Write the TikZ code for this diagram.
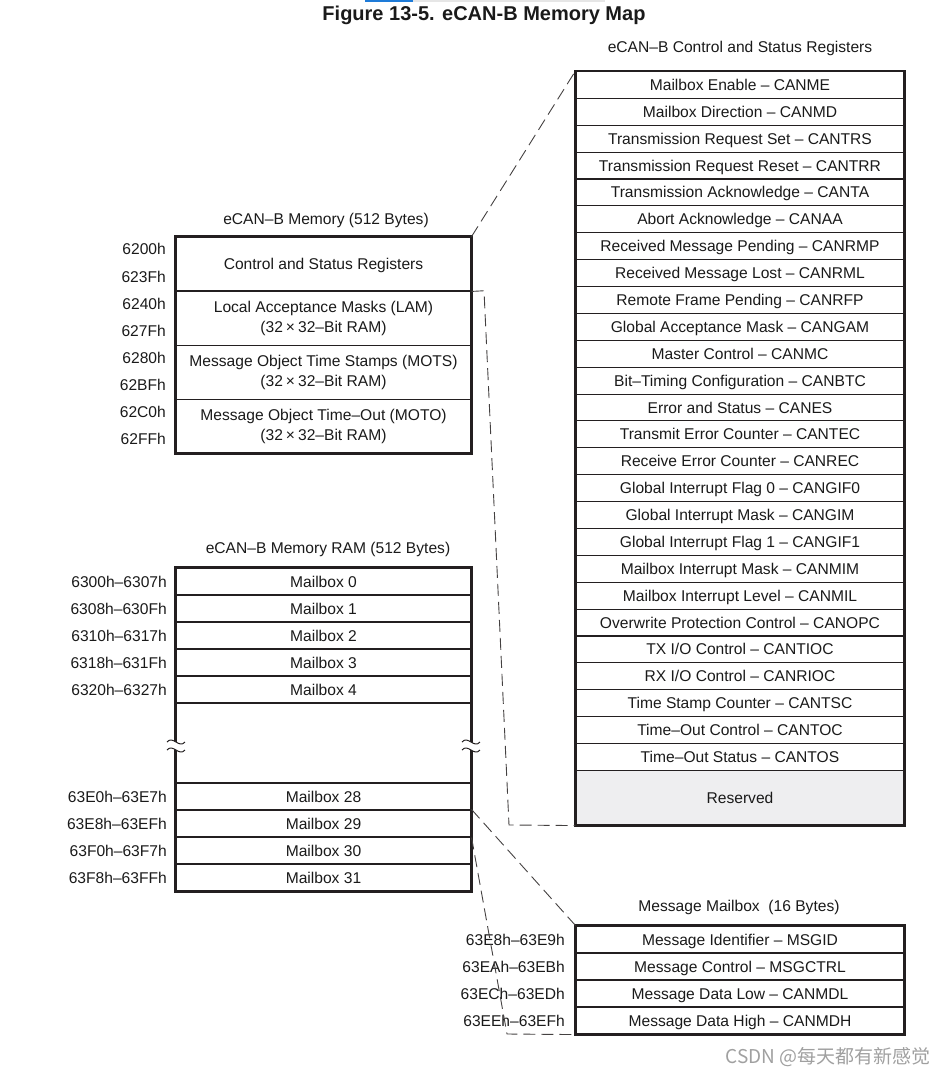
\documentclass[tikz,border=0pt]{standalone}
\usepackage{fontspec}
\setmainfont{Liberation Sans}
\newfontfamily\cjk{Noto Sans CJK SC}
\definecolor{ink}{HTML}{1A1A1A}
\definecolor{edge}{HTML}{231F20}
\definecolor{resv}{HTML}{EEEEF0}
\definecolor{wm}{HTML}{A0A0A0}
\definecolor{topblue}{HTML}{1E7BD8}
\definecolor{topgray}{HTML}{E6E6E6}
\newcommand{\tms}{\hspace{3pt}×\hspace{3pt}}
\tikzset{
  lbl/.style={font=\fontsize{15.6}{20}\selectfont, text=ink, inner sep=0pt},
  rowbox/.style={lbl, draw=edge, line width=1.1pt, align=center},
  one/.style={text height=12.6pt, text depth=1.6pt},
  crow/.style={rowbox, one, minimum width=328pt, minimum height=26.88pt},
  mrow/.style={rowbox, minimum width=295pt, minimum height=53.75pt},
  brow/.style={rowbox, one, minimum width=295pt, minimum height=27pt},
  addr/.style={lbl, anchor=east},
  frame/.style={draw=edge, line width=2.4pt},
  conn/.style={draw=edge!85, line width=0.9pt, dash pattern=on 12pt off 6pt},
  ttl/.style={lbl}
}
\begin{document}
\begin{tikzpicture}[x=1pt,y=-1pt]
\useasboundingbox (0,0) rectangle (946,1076);
\fill[topblue] (365,0) rectangle (413,2);
\fill[topgray] (413,0) rectangle (605,1.5);

\node[font=\bfseries\fontsize{20}{24}\selectfont, text=ink] (title) at (484,15) {Figure 13-5. eCAN-B Memory Map};

% ---- Control and status registers (right)
\node[ttl] (ctitle) at (740,48) {eCAN–B Control and Status Registers};
\foreach \t [count=\i] in {
 Mailbox Enable – CANME, Mailbox Direction – CANMD, Transmission Request Set – CANTRS,
 Transmission Request Reset – CANTRR, Transmission Acknowledge – CANTA, Abort Acknowledge – CANAA,
 Received Message Pending – CANRMP, Received Message Lost – CANRML, Remote Frame Pending – CANRFP,
 Global Acceptance Mask – CANGAM, Master Control – CANMC, Bit–Timing Configuration – CANBTC,
 Error and Status – CANES, Transmit Error Counter – CANTEC, Receive Error Counter – CANREC,
 Global Interrupt Flag 0 – CANGIF0, Global Interrupt Mask – CANGIM, Global Interrupt Flag 1 – CANGIF1,
 Mailbox Interrupt Mask – CANMIM, Mailbox Interrupt Level – CANMIL, Overwrite Protection Control – CANOPC,
 TX I/O Control – CANTIOC, RX I/O Control – CANRIOC, Time Stamp Counter – CANTSC,
 Time–Out Control – CANTOC, Time–Out Status – CANTOS}
 \node[crow] (c\i) at (740,{71.5+(\i-0.5)*26.88}) {\t};
\node[crow, fill=resv, minimum height=54.6pt] (cres) at (740,797.7) {Reserved};
\draw[frame] (c1.north west) rectangle (cres.south east);

% ---- eCAN-B Memory (left top)
\node[ttl] (mtitle) at (326,220) {eCAN–B Memory (512 Bytes)};
\node[mrow, one] (m1) at (323.5,264) {Control and Status Registers};
\node[mrow] (m2) at (323.5,318.5) {Local Acceptance Masks (LAM)\\(32\tms32–Bit RAM)};
\node[mrow] (m3) at (323.5,372.25) {Message Object Time Stamps (MOTS)\\(32\tms32–Bit RAM)};
\node[mrow] (m4) at (323.5,426) {Message Object Time–Out (MOTO)\\(32\tms32–Bit RAM)};
\draw[frame] (m1.north west) rectangle (m4.south east);
\node[addr] (a1) at (166,249) {6200h};
\node[addr] (a2) at (166,277) {623Fh};
\node[addr] (a3) at (166,304) {6240h};
\node[addr] (a4) at (166,331) {627Fh};
\node[addr] (a5) at (166,358) {6280h};
\node[addr] (a6) at (166,385) {62BFh};
\node[addr] (a7) at (166,412) {62C0h};
\node[addr] (a8) at (166,439) {62FFh};

% ---- Mailbox RAM (left bottom)
\node[ttl] (rtitle) at (328,549) {eCAN–B Memory RAM (512 Bytes)};
\foreach \n/\y/\ad in {0/581.5/6300h–6307h, 1/608.5/6308h–630Fh, 2/635.5/6310h–6317h,
   3/662.5/6318h–631Fh, 4/689.5/6320h–6327h, 28/796.5/63E0h–63E7h, 29/823.5/63E8h–63EFh,
   30/850.5/63F0h–63F7h, 31/877.5/63F8h–63FFh}{
 \node[brow] (mb\n) at (323.5,\y) {Mailbox \n};
 \node[addr] (ab\n) at (167,\y) {\ad};
}
\draw[frame] (mb0.north west) rectangle (mb31.south east);
% break marks
\foreach \bx in {176,471}{
 \fill[white] (\bx-9,742) .. controls (\bx-3,735) and (\bx+3,749) .. (\bx+9,742)
   -- (\bx+9,750) .. controls (\bx+3,757) and (\bx-3,743) .. (\bx-9,750) -- cycle;
 \draw[edge, line width=1pt] (\bx-9,742) .. controls (\bx-3,735) and (\bx+3,749) .. (\bx+9,742);
 \draw[edge, line width=1pt] (\bx-9,750) .. controls (\bx-3,743) and (\bx+3,757) .. (\bx+9,750);
}

% ---- Message mailbox (right bottom)
\node[ttl] (xtitle) at (739,907) {Message Mailbox~~(16 Bytes)};
\foreach \t/\ad [count=\i] in {Message Identifier – MSGID/63E8h–63E9h, Message Control – MSGCTRL/63EAh–63EBh,
  Message Data Low – CANMDL/63ECh–63EDh, Message Data High – CANMDH/63EEh–63EFh}{
 \node[crow, minimum height=27pt] (mm\i) at (740,{926+(\i-0.5)*27}) {\t};
 \node[addr] (am\i) at (565,{926+(\i-0.5)*27}) {\ad};
}
\draw[frame] (mm1.north west) rectangle (mm4.south east);

% ---- dashed connectors
\coordinate (k1) at (484,290.75);
\coordinate (bend1) at (509,825);
\coordinate (bend2) at (507,1034);
\draw[conn] (m1.north east) -- (c1.north west);
\draw[conn] (m1.south east) -- (k1) -- (bend1) -- (cres.south west);
\draw[conn] (mb29.north east) -- (mm1.north west);
\draw[conn] (mb29.south east) -- (bend2) -- (mm4.south west);

% watermark
\node[font=\cjk\fontsize{19}{22}\selectfont, text=wm, anchor=east, inner sep=0pt] (wmk) at (931,1057) {CSDN @每天都有新感觉};
\end{tikzpicture}
\end{document}
